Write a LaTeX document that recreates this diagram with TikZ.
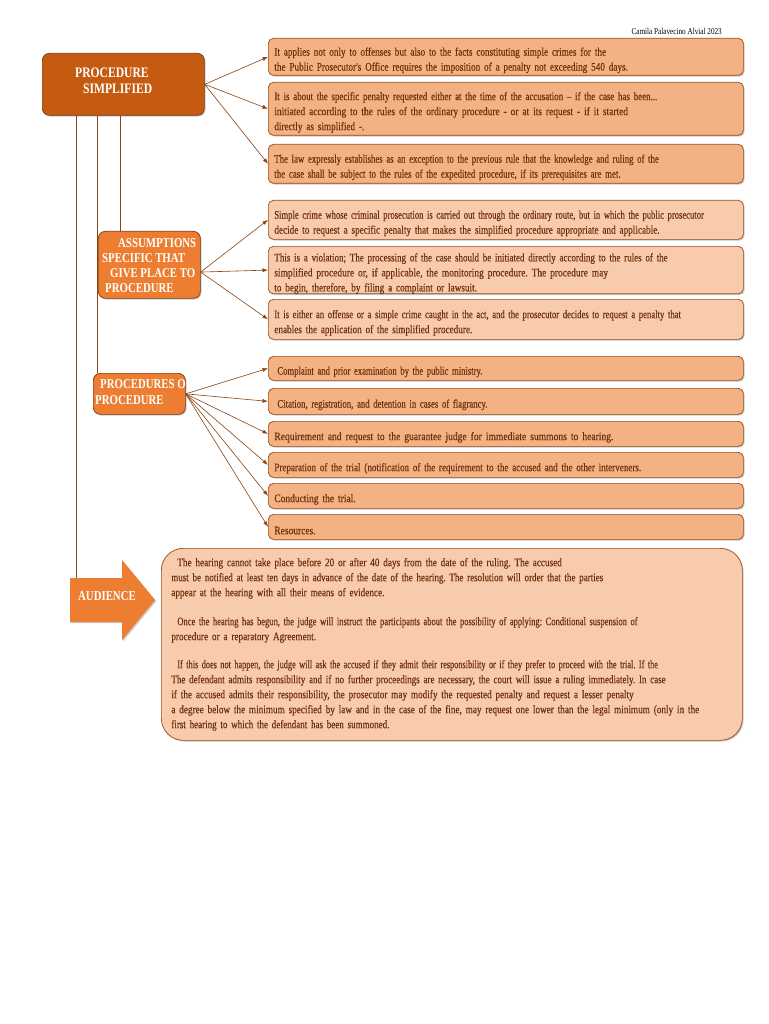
\documentclass[tikz,border=0pt]{standalone}
\usepackage{fontspec}
\usepackage{graphicx}
\setmainfont[FakeStretch=0.8]{Liberation Serif}
\newfontfamily\bodyfam[FakeStretch=0.8,FakeBold=0.3]{Liberation Serif}
\usetikzlibrary{shadows,arrows.meta}
\definecolor{hdark}{HTML}{C55A11}
\definecolor{horange}{HTML}{ED7D31}
\definecolor{fillA}{HTML}{F4B183}
\definecolor{fillB}{HTML}{F8CBAD}
\definecolor{bord}{HTML}{9A4A16}
\definecolor{txt}{HTML}{6E300A}
\definecolor{conn}{HTML}{8B4513}
\newcommand\bodyf{\bodyfam\fontsize{11.5}{15}\selectfont\frenchspacing}
\newcommand\headf{\fontsize{14.5}{16}\selectfont\bfseries}
\newcommand\subheadf{\fontsize{13.5}{15}\selectfont\bfseries}
\newcommand\sx[2]{\scalebox{#1}[1]{#2}}
\begin{document}
\begin{tikzpicture}[x=1pt,y=-1pt,
  shad/.style={drop shadow={shadow xshift=1.2pt,shadow yshift=-1.2pt,opacity=0.35,fill=black!60}},
  box/.style={draw=bord,line width=0.7pt,rounded corners=5pt,anchor=north west,align=left,
    text=txt,font=\bodyf,inner xsep=6pt,inner ysep=0pt,text width=463pt,minimum width=475pt,shad},
  boxA/.style={box,fill=fillA,execute at begin node={\rule{0pt}{15pt}}},
  boxB/.style={box,fill=fillB,execute at begin node={\rule{0pt}{15pt}}},
  hbox/.style={draw=bord!80!black,line width=0.7pt,rounded corners=7pt,anchor=north west,inner sep=0pt,shad},
  htext/.style={anchor=west,inner sep=0pt,text=white},
  arr/.style={draw=conn,line width=0.6pt,-{Latex[length=5.5pt,width=4pt]}},
  vline/.style={draw=conn,line width=0.8pt}]
\useasboundingbox (0,0) rectangle (768,1024);
\fill[white] (0,0) rectangle (768,1024);

% author
\node[anchor=east,inner sep=0pt,text=black,font=\fontsize{9}{10}\selectfont] (author) at (722,31) {Camila Palavecino Alvial 2023};

% heading boxes
\node[hbox,fill=hdark,minimum width=162pt,minimum height=62pt] (ps) at (42,53) {};
\node[htext,font=\headf] (ps1) at (75,73) {PROCEDURE};
\node[htext,font=\headf] (ps2) at (83,89) {SIMPLIFIED};

\node[hbox,fill=horange,minimum width=102pt,minimum height=67pt] (as) at (98,231) {};
\node[htext,font=\subheadf] (as1) at (118,243) {ASSUMPTIONS};
\node[htext,font=\subheadf] (as2) at (102,258) {SPECIFIC THAT};
\node[htext,font=\subheadf] (as3) at (110,273) {GIVE PLACE TO};
\node[htext,font=\subheadf] (as4) at (105,288) {PROCEDURE};

\node[hbox,fill=horange,minimum width=92pt,minimum height=41pt] (pr) at (93,373) {};
\node[htext,font=\subheadf] (pr1) at (100,384) {PROCEDURES O};
\node[htext,font=\subheadf] (pr2) at (95,400) {PROCEDURE};

% vertical lines
\coordinate (v1) at (76,0);
\coordinate (v2) at (97,0);
\coordinate (v3) at (120,0);
\coordinate (audtop) at (76,578);
\draw[vline] (ps.south -| v3) -- (as.north -| v3);
\draw[vline] (ps.south -| v2) -- (pr.north -| v2);
\draw[vline] (ps.south -| v1) -- (audtop);

% audience arrow
\fill[horange,shad] (70,578) -- (122,578) -- (122,560) -- (155,600) -- (122,640) -- (122,622) -- (70,622) -- cycle;
\node[htext,font=\subheadf] (audt) at (78,596) {AUDIENCE};

% group A
\node[boxA,minimum height=37pt] (a1) at (268,38) {It applies not only to offenses but also to the facts constituting simple crimes for the\\the Public Prosecutor's Office requires the imposition of a penalty not exceeding 540 days.};
\node[boxA,minimum height=53pt] (a2) at (268,82) {\sx{0.972}{It is about the specific penalty requested either at the time of the accusation – if the case has been...}\\\sx{1.023}{initiated according to the rules of the ordinary procedure - or at its request - if it started}\\directly as simplified -.};
\node[boxA,minimum height=39pt] (a3) at (268,144) {\sx{0.953}{The law expressly establishes as an exception to the previous rule that the knowledge and ruling of the}\\\sx{0.964}{the case shall be subject to the rules of the expedited procedure, if its prerequisites are met.}};

% group B
\node[boxB,minimum height=39pt] (b1) at (268,200) {\sx{0.935}{Simple crime whose criminal prosecution is carried out through the ordinary route, but in which the public prosecutor}\\decide to request a specific penalty that makes the simplified procedure appropriate and applicable.};
\node[boxB,minimum height=47pt] (b2) at (268,246) {\sx{0.978}{This is a violation; The processing of the case should be initiated directly according to the rules of the}\\\sx{1.024}{simplified procedure or, if applicable, the monitoring procedure. The procedure may}\\to begin, therefore, by filing a complaint or lawsuit.};
\node[boxB,minimum height=40pt] (b3) at (268,299) {\sx{0.942}{It is either an offense or a simple crime caught in the act, and the prosecutor decides to request a penalty that}\\enables the application of the simplified procedure.};

% group C
\node[boxA,minimum height=24pt] (c1) at (268,356) {\hspace*{3pt}\sx{0.94}{Complaint and prior examination by the public ministry.}};
\node[boxA,minimum height=26pt] (c2) at (268,388) {\hspace*{3pt}\sx{0.95}{Citation, registration, and detention in cases of flagrancy.}};
\node[boxA,minimum height=25pt] (c3) at (268,421) {\sx{1.04}{Requirement and request to the guarantee judge for immediate summons to hearing.}};
\node[boxA,minimum height=25pt] (c4) at (268,452) {\sx{0.984}{Preparation of the trial (notification of the requirement to the accused and the other interveners.}};
\node[boxA,minimum height=25pt] (c5) at (268,483) {\sx{1.03}{Conducting the trial.}};
\node[boxA,minimum height=25pt] (c6) at (268,514) {\sx{1.03}{Resources.}};

% audience box
\node[box,fill=fillB,rounded corners=22pt,inner xsep=10pt,text width=561pt,minimum width=581pt,minimum height=192pt] (aud) at (161,548) {\hspace*{6pt}The hearing cannot take place before 20 or after 40 days from the date of the ruling. The accused\\\sx{0.977}{must be notified at least ten days in advance of the date of the hearing. The resolution will order that the parties}\\appear at the hearing with all their means of evidence.\\[14pt]
\hspace*{6pt}\sx{0.928}{Once the hearing has begun, the judge will instruct the participants about the possibility of applying: Conditional suspension of}\\procedure or a reparatory Agreement.\\[13pt]
\hspace*{6pt}\sx{0.90}{If this does not happen, the judge will ask the accused if they admit their responsibility or if they prefer to proceed with the trial. If the}\\\sx{0.98}{The defendant admits responsibility and if no further proceedings are necessary, the court will issue a ruling immediately. In case}\\if the accused admits their responsibility, the prosecutor may modify the requested penalty and request a lesser penalty\\a degree below the minimum specified by law and in the case of the fine, may request one lower than the legal minimum (only in the\\\sx{0.98}{first hearing to which the defendant has been summoned.}};

% connectors
\foreach \t in {a1,a2,a3} \draw[arr] (ps.east) -- (\t.west);
\foreach \t in {b1,b2,b3} \draw[arr] (as.-8) -- (\t.west);
\foreach \t in {c1,c2,c3,c4,c5,c6} \draw[arr] (pr.east) -- (\t.west);
\end{tikzpicture}
\end{document}
